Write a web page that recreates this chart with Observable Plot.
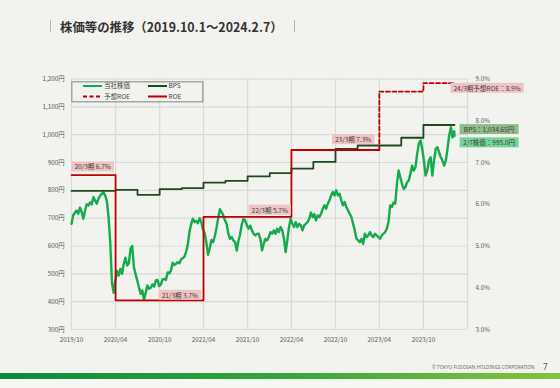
<!DOCTYPE html>
<html><head><meta charset="utf-8">
<script src="https://cdn.jsdelivr.net/npm/d3@7"></script>
<script src="https://cdn.jsdelivr.net/npm/@observablehq/plot@0.6"></script>
<style>
html,body{margin:0;padding:0;background:#f2f2ee;}
#page{position:relative;width:560px;height:388px;overflow:hidden;background:#f2f2ee;font-family:"Noto Sans CJK JP","Noto Sans",sans-serif;}
.vbar{position:absolute;top:20px;width:1px;height:12px;background:#b4b4b4;}
#title{position:absolute;left:60px;top:18px;font-size:12.4px;line-height:18px;font-weight:bold;color:#333;white-space:nowrap;}
#chart{position:absolute;left:0;top:0;}
#legend{position:absolute;left:0;top:0;}
#footer{position:absolute;left:432px;top:364px;font-size:4.5px;line-height:6px;color:#666;white-space:nowrap;letter-spacing:0.1px;font-family:"Noto Sans",sans-serif;}
#pageno{position:absolute;left:543px;top:361px;font-size:8px;line-height:12px;color:#555;font-family:"Noto Sans",sans-serif;}
#gbar{position:absolute;left:0;top:373px;width:560px;height:5.5px;background:linear-gradient(90deg,#0b8a3e 0%,#34a53c 50%,#86c23d 100%);}
#below{position:absolute;left:0;top:378.5px;width:560px;height:10px;background:#f6f6f3;}
</style></head><body>
<div id="page">
  <div class="vbar" style="left:50px"></div>
  <div id="title">株価等の推移（2019.10.1～2024.2.7）</div>
  <div class="vbar" style="left:294px"></div>
  <div id="chart"></div>
  <svg id="legend" width="560" height="388" style="font-family:'Noto Sans CJK JP',sans-serif">
    <rect x="71.75" y="81.75" width="131" height="20" fill="#f2f2ee" stroke="#a6a6a6" stroke-width="1.5"/>
    <line x1="83" x2="102" y1="86" y2="86" stroke="#12ab4f" stroke-width="2"/>
    <text x="104" y="86" dy="0.35em" font-size="6.5" fill="#444">当社株価</text>
    <line x1="148" x2="167" y1="86" y2="86" stroke="#1f4a1f" stroke-width="2"/>
    <text x="168.5" y="86" dy="0.35em" font-size="6.5" fill="#444">BPS</text>
    <line x1="83" x2="102" y1="96.5" y2="96.5" stroke="#c00000" stroke-width="2" stroke-dasharray="4,2.5"/>
    <text x="104" y="96.5" dy="0.35em" font-size="6.5" fill="#444">予想ROE</text>
    <line x1="148" x2="167" y1="96.5" y2="96.5" stroke="#c00000" stroke-width="2"/>
    <text x="168.5" y="96.5" dy="0.35em" font-size="6.5" fill="#444">ROE</text>
  </svg>
  <div id="footer">© TOKYU FUDOSAN HOLDINGS CORPORATION</div>
  <div id="pageno">7</div>
  <div id="gbar"></div>
  <div id="below"></div>
</div>
<script>
// ---- data ----
const priceStart = "2019-10-01";           // weekly closes from this date
const priceWeekly = [
680,710,720,727,716,738,722,698,726,750,746,757,749,775,764,752,769,781,787,793,
781,760,702,610,468,432,475,510,494,518,500,536,558,530,538,590,600,524,500,476,
452,428,440,408,432,458,446,450,462,454,476,478,456,462,480,482,478,505,502,512,
540,532,536,542,538,552,556,562,580,605,652,680,698,686,690,682,700,685,660,645,
612,568,592,622,614,636,665,700,732,722,710,692,680,645,626,632,620,614,584,618,
642,678,697,692,674,662,673,656,644,638,644,644,626,584,608,626,620,632,650,644,
656,644,662,650,668,656,626,578,620,668,698,680,668,686,668,680,674,656,674,680,
686,698,720,704,715,692,710,704,716,734,746,734,752,764,782,794,782,800,782,788,
764,746,758,740,728,716,704,680,656,626,620,614,626,608,644,632,638,650,638,632,
644,638,632,626,638,644,650,662,686,746,740,756,752,823,871,847,823,805,811,829,
835,859,889,871,883,931,967,979,949,907,853,871,907,919,853,907,949,955,937,919,
907,889,907,949,997,1027,990,1012
];
const priceLastDate = "2024-02-07";
const priceLast = 995.0;

const bpsDates = ["2019-10-01","2020-01-01","2020-04-01","2020-07-01","2020-10-01","2021-01-01","2021-04-01","2021-07-01","2021-10-01","2022-01-01","2022-04-01","2022-07-01","2022-10-01","2023-01-01","2023-04-01","2023-07-01","2023-10-01","2024-02-07"];
const bpsValues = [798,798,802,784,804,808,828,834,850,862,878,902,949,961,961,989,1034.65,1034.65];

const roePeriods = ["20/3期","21/3期","22/3期","23/3期"];
const roeStart = ["2019-10-01","2020-04-01","2021-04-01","2022-04-01"];
const roeValues = [6.7,3.7,5.7,7.3];
const roeEnd = "2023-04-01";

const fcLabel = "24/3期予想ROE";
const fcStart = ["2023-04-01","2023-10-01"];
const fcValues = [8.7,8.9];
const fcEnd = "2024-02-07";

const xTicks = ["2019-10-01","2020-04-01","2020-10-01","2021-04-01","2021-10-01","2022-04-01","2022-10-01","2023-04-01","2023-10-01"];
const xGrid = [...xTicks,"2024-04-01"];
const yTicks = [300,400,500,600,700,800,900,1000,1100,1200];
const roeTicks = [3,4,5,6,7,8,9];

// ---- derived ----
const D = s => new Date(s + "T00:00:00Z");
const toYen = r => 300 + (r - 3) * 150;   // maps 3.0%..9.0% onto 300..1200円
const fromYen = y => (y - 300) / 150 + 3;

const price = priceWeekly.map((v,i) => ({date: d3.utcDay.offset(D(priceStart), 7*i), v}));
price.push({date: D(priceLastDate), v: priceLast});
const bps = bpsDates.map((d,i) => ({date: D(d), v: bpsValues[i]}));
const roe = roeStart.map((d,i) => ({date: D(d), v: toYen(roeValues[i])}));
roe.push({date: D(roeEnd), v: toYen(roeValues[roeValues.length-1])});
const fc = [{date: D(fcStart[0]), v: toYen(roeValues[roeValues.length-1])}];
fcStart.forEach((d,i) => fc.push({date: D(d), v: toYen(fcValues[i])}));
fc.push({date: D(fcEnd), v: toYen(fcValues[fcValues.length-1])});

const roeLabels = roePeriods.map((p,i) => ({
  date: D(i === 0 ? roeStart[0] : (i < roeStart.length-1 ? roeStart[i+1] : roeEnd)),
  v: toYen(roeValues[i]), text: `${p} ${roeValues[i].toFixed(1)}%`
}));
const fcLab = {date: D(fcEnd), v: toYen(fcValues[fcValues.length-1]), text: `${fcLabel}：${fcValues[fcValues.length-1].toFixed(1)}%`};
const bpsLab = {date: D(bpsDates[bpsDates.length-1]), v: bpsValues[bpsValues.length-1], text: `BPS：${d3.format(",.2f")(bpsValues[bpsValues.length-1])}円`};
const priceLab = {date: D(priceLastDate), v: priceLast, text: `2/7株価：${priceLast.toFixed(1)}円`};

const gridStyle = {stroke:"#d9d9d9", strokeOpacity:1, strokeWidth:1.2};
const labStyle = {x:"date", y:"v", text:"text", fontSize:6.5, fill:"#404040"};

const chart = Plot.plot({
  width: 560, height: 388,
  marginLeft: 71, marginRight: 93, marginTop: 78.5, marginBottom: 59,
  style: {background:"transparent", fontFamily:"'Noto Sans CJK JP','Noto Sans',sans-serif", fontSize:"6.3px", color:"#595959", overflow:"visible"},
  x: {type:"utc", domain:[D("2019-10-01"), D("2024-04-01")]},
  y: {domain:[300,1200]},
  marks: [
    Plot.gridX(xGrid.map(D), gridStyle),
    Plot.gridY(yTicks, gridStyle),
    Plot.axisX(xTicks.map(D), {tickSize:0, tickPadding:8, tickFormat:d3.utcFormat("%Y/%m"), label:null}),
    Plot.axisY(yTicks, {tickSize:0, tickPadding:7, tickFormat:d => d3.format(",")(d) + "円", label:null}),
    Plot.axisY(roeTicks.map(toYen), {anchor:"right", tickSize:0, tickPadding:8, tickFormat:d => fromYen(d).toFixed(1) + "%", label:null}),
    Plot.line(price, {x:"date", y:"v", stroke:"#15aa4c", strokeWidth:2.4, strokeLinejoin:"round"}),
    Plot.line(bps, {x:"date", y:"v", curve:"step-after", stroke:"#1f4a1f", strokeWidth:1.8}),
    Plot.line(roe, {x:"date", y:"v", curve:"step-after", stroke:"#c00000", strokeWidth:1.8}),
    Plot.line(fc, {x:"date", y:"v", curve:"step-after", stroke:"#c00000", strokeWidth:1.8, strokeDasharray:"4,2.5"}),
    Plot.text([roeLabels[0]], {...labStyle, textAnchor:"start", dx:3, dy:-7.7}),
    Plot.text([roeLabels[1]], {...labStyle, textAnchor:"end", dx:-5.5, dy:-4.6}),
    Plot.text([roeLabels[2]], {...labStyle, textAnchor:"end", dx:-3.5, dy:-6.2}),
    Plot.text([roeLabels[3]], {...labStyle, textAnchor:"end", dx:-8, dy:-10}),
    Plot.text([fcLab], {...labStyle, textAnchor:"start", dx:-1, dy:5.5}),
    Plot.text([bpsLab], {...labStyle, textAnchor:"middle", dx:34.6, dy:5}),
    Plot.text([priceLab], {...labStyle, textAnchor:"middle", dx:34.6, dy:7.2})
  ]
});
document.getElementById("chart").appendChild(chart);

// backgrounds behind annotation labels
const bg = new Map();
roeLabels.forEach(l => bg.set(l.text, {fill:"#efc4c4"}));
bg.set(fcLab.text, {fill:"#efc4c4"});
bg.set(bpsLab.text, {fill:"#8fbb8a", width:59});
bg.set(priceLab.text, {fill:"#74d49a", width:59});
const ns = "http://www.w3.org/2000/svg";
chart.querySelectorAll("text").forEach(t => {
  const s = bg.get(t.textContent);
  if (!s) return;
  const b = t.getBBox();
  const w = s.width || b.width + 6;
  const r = document.createElementNS(ns, "rect");
  r.setAttribute("x", b.x + b.width/2 - w/2);
  r.setAttribute("y", b.y);
  r.setAttribute("width", w);
  r.setAttribute("height", b.height);
  r.setAttribute("fill", s.fill);
  const tr = t.getAttribute("transform");
  if (tr) r.setAttribute("transform", tr);
  t.parentNode.insertBefore(r, t);
});
</script>
</body></html>
